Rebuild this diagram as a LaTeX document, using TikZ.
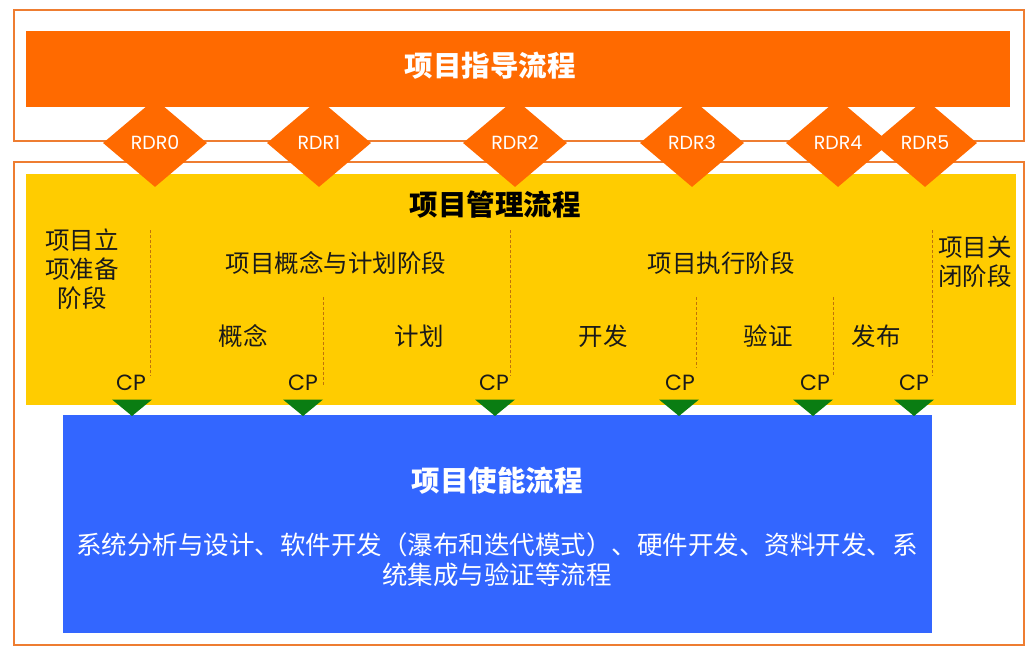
\documentclass[tikz,border=0pt]{standalone}
\usepackage{fontspec}
\setmainfont{Noto Sans CJK SC}
\newfontfamily\latin{Poppins}
\usetikzlibrary{shapes.geometric}
\definecolor{frameor}{HTML}{EE7D31}
\definecolor{barorange}{HTML}{FF6A00}
\definecolor{ylw}{HTML}{FFCC00}
\definecolor{blu}{HTML}{3366FF}
\definecolor{grn}{HTML}{0A7D12}
\definecolor{dashc}{HTML}{C0730A}
\definecolor{txt}{HTML}{1A1A1A}
\tikzset{
  frame/.style={draw=frameor, line width=2.6pt},
  rdr/.style={diamond, fill=barorange, minimum width=104pt, minimum height=88pt, inner sep=0pt,
     text=white, font=\latin\fontsize{19}{21}\selectfont},
  cjk/.style={text=txt, font=\fontsize{24.5}{29}\selectfont, align=center, inner sep=0pt},
  title/.style={font=\bfseries\fontsize{28.5}{32}\selectfont, inner sep=0pt},
  cplab/.style={text=txt, font=\latin\fontsize{22}{24}\selectfont, inner sep=0pt},
  sep/.style={draw=dashc, dashed, line width=0.7pt, dash pattern=on 3pt off 2pt},
  cptri/.style={fill=grn}
}
\begin{document}
\begin{tikzpicture}[x=1pt,y=-1pt]
\useasboundingbox (0,0) rectangle (1033,650);
\fill[white] (0,0) rectangle (1033,650);
% frames
\draw[frame] (14,10) rectangle (1024,141);
\draw[frame] (14,162) rectangle (1024,645);
% guidance bar
\fill[barorange] (26,31) rectangle (1010,107);
\node[title, text=white] (guide) at (490,66) {项目指导流程};
% management box
\fill[ylw] (26,174) rectangle (1016,405);
% enabling box
\fill[blu] (63,415) rectangle (932,633);
% diamonds
\node[rdr] (r0) at (155,143) {RDR0};
\node[rdr] (r1) at (319,143) {RDR1};
\node[rdr] (r2) at (515,143) {RDR2};
\node[rdr] (r3) at (692,143) {RDR3};
\node[rdr] (r4) at (838,143) {RDR4};
\node[rdr] (r5) at (925,143) {RDR5};
% management texts
\node[title, text=black] (mgmt) at (495,205) {项目管理流程};
\node[cjk] (p0) at (82,269) {项目立\\项准备\\阶段};
\node[cjk] (p1) at (336,263) {项目概念与计划阶段};
\node[cjk] (p2) at (721,263) {项目执行阶段};
\node[cjk] (p3) at (975,262) {项目关\\闭阶段};
\node[cjk] (s1) at (243,336) {概念};
\node[cjk] (s2) at (419,336) {计划};
\node[cjk] (s3) at (603,336) {开发};
\node[cjk] (s4) at (768,336) {验证};
\node[cjk] (s5) at (876,336) {发布};
% separators
\draw[sep] (150,230) -- (150,376);
\draw[sep] (323,297) -- (323,386);
\draw[sep] (510,230) -- (510,376);
\draw[sep] (696,297) -- (696,368);
\draw[sep] (833,297) -- (833,376);
\draw[sep] (932,230) -- (932,376);
% CP labels and triangles
\foreach \n/\x in {c0/131,c1/303,c2/494,c3/680,c4/815,c5/914}{
  \node[cplab] (\n) at (\x,383) {CP};
}
\foreach \x in {132,303,495,679,813,914}{
  \fill[cptri] (\x-20,399.5) -- (\x+20,399.5) -- (\x,416) -- cycle;
}
% enabling texts
\node[title, text=white] (enab) at (497,481) {项目使能流程};
\node[cjk, text=white, font=\fontsize{25.5}{30}\selectfont] (body) at (497,560)
  {系统分析与设计、软件开发（瀑布和迭代模式）、硬件开发、资料开发、系\\统集成与验证等流程};
\end{tikzpicture}
\end{document}
